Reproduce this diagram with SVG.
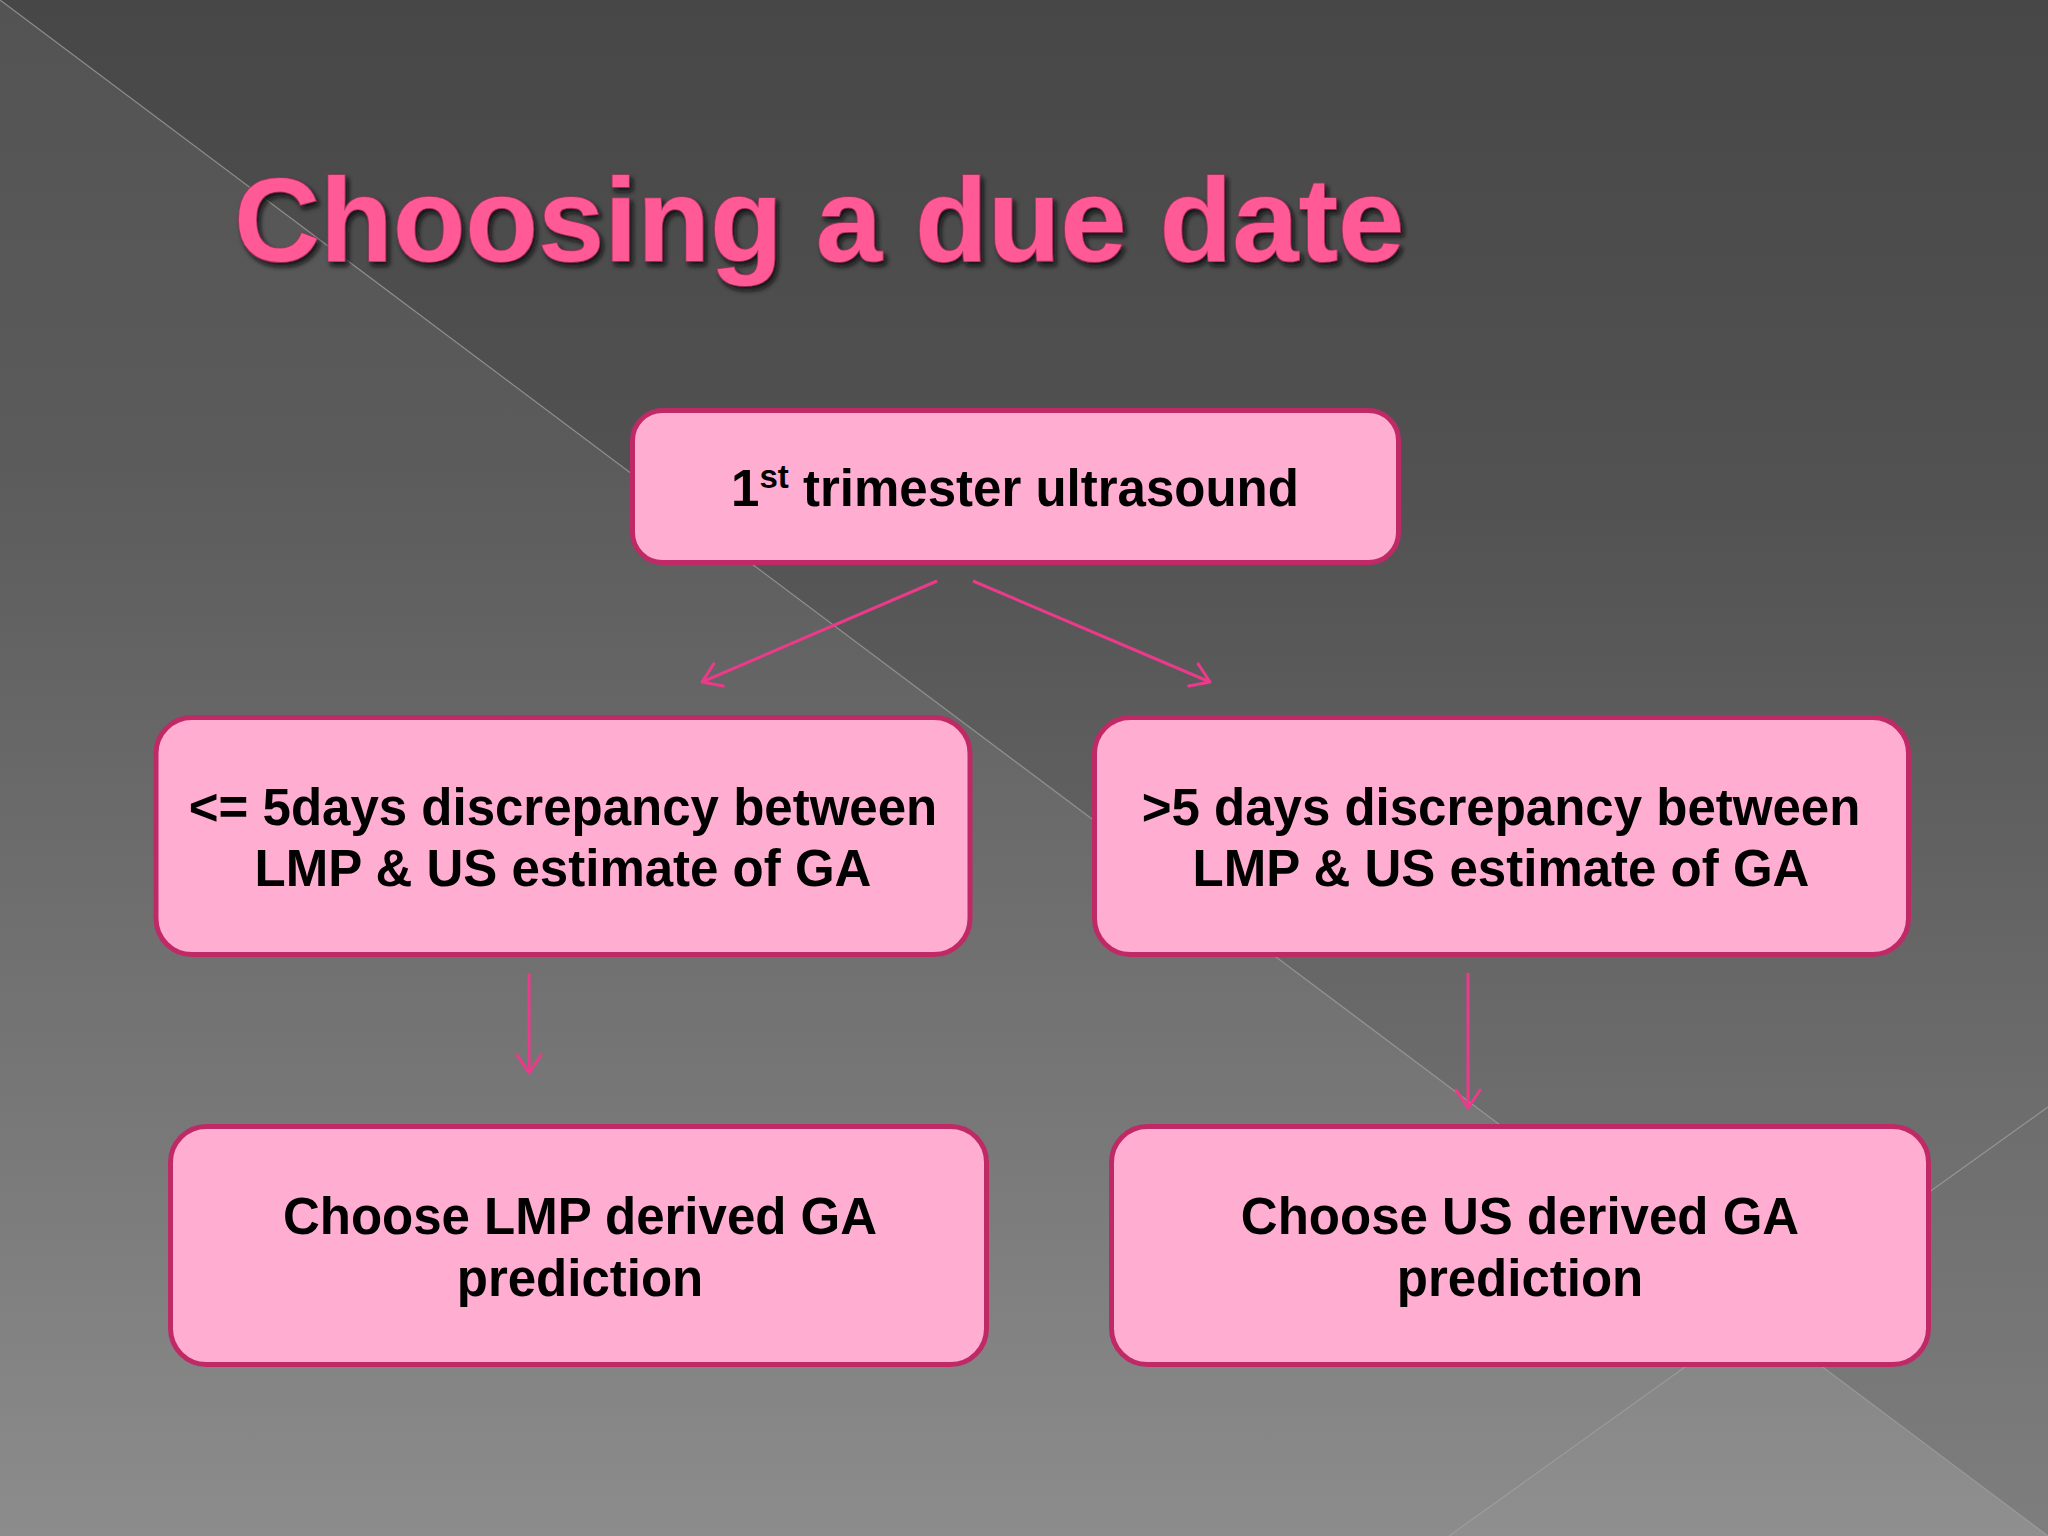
<svg xmlns="http://www.w3.org/2000/svg" width="2048" height="1536" viewBox="0 0 2048 1536">
  <defs>
    <linearGradient id="gA" x1="0" y1="0" x2="0" y2="1536" gradientUnits="userSpaceOnUse">
      <stop offset="0" stop-color="#474747"/>
      <stop offset="0.33" stop-color="#525252"/>
      <stop offset="0.72" stop-color="#6d6d6d"/>
      <stop offset="1" stop-color="#7e7e7e"/>
    </linearGradient>
    <linearGradient id="gB" x1="0" y1="0" x2="0" y2="1536" gradientUnits="userSpaceOnUse">
      <stop offset="0" stop-color="#535353"/>
      <stop offset="0.3" stop-color="#5b5b5b"/>
      <stop offset="0.72" stop-color="#777777"/>
      <stop offset="1" stop-color="#8c8c8c"/>
    </linearGradient>
    <filter id="shadow" x="-5%" y="-20%" width="110%" height="150%">
      <feDropShadow dx="3" dy="4" stdDeviation="2.5" flood-color="#101010" flood-opacity="0.9"/>
    </filter>
    <marker id="arrow" markerUnits="userSpaceOnUse" viewBox="-25 -15 30 30" refX="0" refY="0" markerWidth="30" markerHeight="30" orient="auto">
      <path d="M-18,-12 L0,0 L-18,12" fill="none" stroke="#EC3A8B" stroke-width="3" stroke-linecap="round" stroke-linejoin="round"/>
    </marker>
    <style>
      .box { fill: #FFAED2; stroke: #BF2A66; stroke-width: 5; }
      .lbl { font-family: "Liberation Sans", Arial, sans-serif; font-weight: bold; font-size: 51px; fill: #000; text-anchor: middle; }
      .conn { stroke: #EC3A8B; stroke-width: 3; fill: none; marker-end: url(#arrow); }
      .bgline { stroke: #a0a0a0; stroke-width: 1.3; stroke-opacity: 0.75; fill: none; }
      .title { font-family: "Liberation Sans", Arial, sans-serif; font-weight: bold; font-size: 119px; fill: #FF5A96; stroke: #A8305F; stroke-width: 1.6; paint-order: stroke; }
    </style>
  </defs>

  <g id="background">
    <rect x="0" y="0" width="2048" height="1536" fill="url(#gA)"/>
    <polygon points="0,0 0,1536 2048,1536" fill="url(#gB)"/>
    <polygon points="1449,1536 1755.5,1316.6 2048,1536" fill="#ffffff" fill-opacity="0.03"/>
    <line class="bgline" x1="0" y1="0" x2="2048" y2="1536"/>
    <line class="bgline" x1="1449" y1="1536" x2="2048" y2="1107"/>
  </g>

  <g id="title">
    <text class="title" x="234" y="261" filter="url(#shadow)">Choosing a due date</text>
  </g>

  <g id="connectors">
    <line class="conn" x1="937" y1="581" x2="702" y2="682"/>
    <line class="conn" x1="973" y1="581" x2="1210" y2="682"/>
    <line class="conn" x1="529" y1="973" x2="529" y2="1073"/>
    <line class="conn" x1="1468" y1="973" x2="1468" y2="1108"/>
  </g>

  <g id="node-ultrasound">
    <rect class="box" x="632.5" y="410.5" width="766" height="152" rx="30" ry="30"/>
    <text class="lbl" x="1015" y="506">1<tspan font-size="33" dy="-18">st</tspan><tspan dy="18"> trimester ultrasound</tspan></text>
  </g>

  <g id="node-le5">
    <rect class="box" x="156" y="717.5" width="814" height="237" rx="36" ry="36"/>
    <text class="lbl" x="563" y="825">&lt;= 5days discrepancy between</text>
    <text class="lbl" x="563" y="886">LMP &amp; US estimate of GA</text>
  </g>

  <g id="node-gt5">
    <rect class="box" x="1094.5" y="717.5" width="814" height="237" rx="36" ry="36"/>
    <text class="lbl" x="1501" y="825">&gt;5 days discrepancy between</text>
    <text class="lbl" x="1501" y="886">LMP &amp; US estimate of GA</text>
  </g>

  <g id="node-lmp">
    <rect class="box" x="170.5" y="1126.5" width="816" height="238" rx="36" ry="36"/>
    <text class="lbl" x="580" y="1234">Choose LMP derived GA</text>
    <text class="lbl" x="580" y="1296">prediction</text>
  </g>

  <g id="node-us">
    <rect class="box" x="1111.5" y="1126.5" width="817" height="238" rx="36" ry="36"/>
    <text class="lbl" x="1520" y="1234">Choose US derived GA</text>
    <text class="lbl" x="1520" y="1296">prediction</text>
  </g>
</svg>
